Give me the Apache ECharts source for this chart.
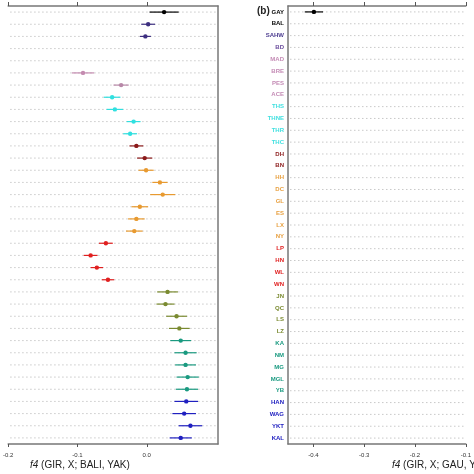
<!DOCTYPE html>
<html>
<head>
<meta charset="UTF-8" />
<script src="https://cdn.jsdelivr.net/npm/echarts@6/dist/echarts.min.js"></script>
</head>
<body style="margin:0">
<div id="chart" style="width:474px;height:474px"></div>
<script>
// panel (a): 36 rows, value and half-width of error bar
var leftRows = ["GAY","SAHW","BD","MAD","BRE","PES","ACE","THS","THNE","THR","THC","DH","BN","HH","DC","GL","ES","LX","NY","LP","HN","WL","WN","JN","QC","LS","LZ","KA","NM","MG","MGL","YB","HAN","WAG","YKT","KAL"];
var leftVal = [0.025,0.002,-0.002,null,null,-0.092,-0.037,-0.05,-0.046,-0.019,-0.024,-0.015,-0.003,-0.001,0.019,0.023,-0.010,-0.015,-0.018,
  -0.059,-0.081,-0.072,-0.056,0.030,0.027,0.043,0.047,0.049,0.056,0.056,0.059,0.058,0.057,0.054,0.063,0.049];
var leftErr = [0.021,0.010,0.008,0,0,0.016,0.011,0.012,0.012,0.010,0.010,0.010,0.011,0.011,0.011,0.018,0.012,0.012,0.012,
  0.010,0.010,0.009,0.009,0.015,0.013,0.015,0.015,0.015,0.016,0.015,0.016,0.016,0.017,0.017,0.017,0.016];
var leftCol = ["#000","#3d2f80","#3d2f80","#000","#000","#c48bb0","#b888a8","#30e0e0","#30e0e0","#30e0e0","#30e0e0","#8b1a1a","#8b1a1a",
  "#e89a30","#e89a30","#e89a30","#e89a30","#e89a30","#e89a30","#e02020","#e02020","#e02020","#e02020",
  "#7a8a30","#7a8a30","#7a8a30","#7a8a30","#1a9a80","#1a9a80","#1a9a80","#1a9a80","#1a9a80","#2020c0","#2020c0","#2020c0","#2020c0"];

// panel (b): 37 rows, only GAY has a value
var rightRows = ["GAY","BAL","SAHW","BD","MAD","BRE","PES","ACE","THS","THNE","THR","THC","DH","BN","HH","DC","GL","ES","LX","NY","LP","HN","WL","WN","JN","QC","LS","LZ","KA","NM","MG","MGL","YB","HAN","WAG","YKT","KAL"];
var rightVal = [-0.399];
var rightErr = [0.018];
var rightCol = ["#000","#000","#4b3b8f","#6a4c9c","#c48bb5","#c48bb5","#c48bb5","#c48bb5","#40e0e0","#40e0e0","#40e0e0","#40e0e0","#8b1a1a","#8b1a1a",
  "#e8a040","#e8a040","#e8a040","#e8a040","#e8a040","#e8a040","#e02020","#e02020","#e02020","#e02020",
  "#7a8a30","#7a8a30","#7a8a30","#7a8a30","#1a9a80","#1a9a80","#1a9a80","#1a9a80","#1a9a80","#2020c0","#2020c0","#2020c0","#2020c0"];

var pointCols = [leftCol, rightCol];

function rows(names, vals, errs) {
  return names.map(function (n, i) {
    var v = vals[i] == null ? NaN : vals[i];
    return [v, i, errs[i] || 0];
  });
}

function renderItem(params, api) {
  var cs = params.coordSys;
  var i = api.value(1);
  var y = api.coord([0, i])[1];
  var kids = [{
    type: "line",
    shape: { x1: cs.x + 2, y1: y, x2: cs.x + cs.width - 2, y2: y },
    style: { stroke: "#bbb", lineWidth: 0.8, lineDash: [1.5, 2.5] }
  }];
  var v = api.value(0);
  if (isFinite(v)) {
    var e = api.value(2), c = pointCols[params.seriesIndex][params.dataIndex];
    var a = api.coord([v - e, i]), b = api.coord([v + e, i]), p = api.coord([v, i]);
    kids.push({ type: "line", shape: { x1: a[0], y1: y, x2: b[0], y2: y }, style: { stroke: c, lineWidth: 1.2 } });
    kids.push({ type: "circle", shape: { cx: p[0], cy: y, r: 2.2 }, style: { fill: c } });
  }
  return { type: "group", children: kids };
}

var axisLine = { show: true, onZero: false, lineStyle: { color: "#777", width: 1.5 } };
var tickLab = { fontSize: 6, color: "#333", formatter: function (v) { return v.toFixed(1); } };
var leftTicks = [-0.2, -0.1, 0];
var rightTicks = [-0.4, -0.3, -0.2, -0.1];

var option = {
  backgroundColor: "#fff",
  animation: false,
  grid: [
    { left: 0, right: 256, top: 6, bottom: 30 },
    { left: 288, right: 0, top: 6, bottom: 30 }
  ],
  xAxis: [
    { gridIndex: 0, type: "value", min: -0.2, max: 0.1028, position: "bottom",
      axisLine: axisLine, axisTick: { show: true, length: 3, customValues: leftTicks, lineStyle: { color: "#555" } },
      axisLabel: Object.assign({ customValues: leftTicks }, tickLab), splitLine: { show: false } },
    { gridIndex: 0, type: "value", min: -0.2, max: 0.1028, position: "top",
      axisLine: axisLine, axisTick: { show: true, length: 4, customValues: leftTicks, lineStyle: { color: "#555" } },
      axisLabel: { show: false }, splitLine: { show: false } },
    { gridIndex: 1, type: "value", min: -0.45, max: -0.1, position: "bottom",
      axisLine: axisLine, axisTick: { show: true, length: 3, customValues: rightTicks, lineStyle: { color: "#555" } },
      axisLabel: Object.assign({ customValues: rightTicks }, tickLab), splitLine: { show: false } },
    { gridIndex: 1, type: "value", min: -0.45, max: -0.1, position: "top",
      axisLine: axisLine, axisTick: { show: true, length: 4, customValues: rightTicks, lineStyle: { color: "#555" } },
      axisLabel: { show: false }, splitLine: { show: false } }
  ],
  yAxis: [
    { gridIndex: 0, type: "category", data: leftRows, inverse: true, position: "right",
      axisLine: axisLine, axisTick: { show: false }, axisLabel: { show: false }, splitLine: { show: false } },
    { gridIndex: 1, type: "category", inverse: true, position: "left",
      data: rightRows.map(function (n, i) { return { value: n, textStyle: { color: rightCol[i] } }; }),
      axisLine: axisLine, axisTick: { show: false }, splitLine: { show: false },
      axisLabel: { fontSize: 6, fontWeight: "bold", margin: 4 } }
  ],
  series: [
    { type: "custom", xAxisIndex: 0, yAxisIndex: 0, renderItem: renderItem, clip: false,
      data: rows(leftRows, leftVal, leftErr) },
    { type: "custom", xAxisIndex: 2, yAxisIndex: 1, renderItem: renderItem, clip: false,
      data: rows(rightRows, rightVal, rightErr) }
  ],
  graphic: [
    { type: "text", left: 30, top: 460, style: { text: "{i|f4} (GIR, X; BALI, YAK)", fontSize: 10, fill: "#222",
      rich: { i: { fontStyle: "italic", fontSize: 10, fill: "#222" } } } },
    { type: "text", left: 392, top: 460, style: { text: "{i|f4} (GIR, X; GAU, YAK)", fontSize: 10, fill: "#222",
      rich: { i: { fontStyle: "italic", fontSize: 10, fill: "#222" } } } },
    { type: "text", left: 257, top: 6, style: { text: "(b)", fontSize: 10, fontWeight: "bold", fill: "#222" } }
  ]
};

var myChart = echarts.init(document.getElementById("chart"));
myChart.setOption(option);
</script>
</body>
</html>
